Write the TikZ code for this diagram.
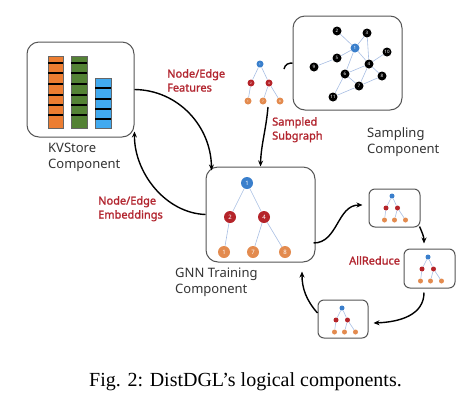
\documentclass[tikz,border=0pt]{standalone}
\usepackage{fontspec}
\setmainfont{Liberation Serif}
\newfontfamily\labfont{Noto Sans}
\newfontfamily\labbold{Noto Sans}[FakeBold=1.6]
\usetikzlibrary{arrows.meta,calc}
\definecolor{cblue}{HTML}{3A7FCC}
\definecolor{cred}{HTML}{B5242A}
\definecolor{corange}{HTML}{E38B4F}
\definecolor{labred}{HTML}{B22630}
\definecolor{edgec}{HTML}{A8BEE3}
\definecolor{kvor}{HTML}{EC7D31}
\definecolor{kvgr}{HTML}{548235}
\definecolor{kvbl}{HTML}{41AAF0}
\definecolor{txtgray}{HTML}{333333}
\definecolor{boxgray}{HTML}{555555}
\begin{document}
\begin{tikzpicture}[x=1pt,y=-1pt,
  compbox/.style={draw=boxgray, line width=1pt, rounded corners=12pt, inner sep=0pt},
  minibox/.style={draw=boxgray, line width=1pt, rounded corners=6pt, inner sep=0pt, minimum width=51pt, minimum height=38pt},
  flow/.style={-{Stealth[length=6pt,width=5pt]}, line width=1.4pt},
  lab/.style={font=\labfont\fontsize{13}{16}\selectfont, text=txtgray, align=left, inner sep=0pt, anchor=north west},
  redlab/.style={font=\labbold\fontsize{11}{14}\selectfont, text=labred, align=left, inner sep=0pt, anchor=north west},
  gnode/.style={circle, inner sep=0pt, minimum size=12pt, font=\labfont\fontsize{6}{6}\selectfont, text=white},
  snode/.style={circle, fill=black, inner sep=0pt, minimum size=9pt, font=\labfont\fontsize{4.5}{4.5}\selectfont, text=white},
  tnode/.style={circle, inner sep=0pt, minimum size=7pt, font=\labfont\fontsize{3}{3}\selectfont, text=white},
  mnode/.style={circle, inner sep=0pt, minimum size=5pt},
  tedge/.style={draw=edgec, line width=0.6pt},
  bar/.style={draw=black!60, line width=0.5pt},
  barline/.style={draw=black, line width=1.3pt}
]
\useasboundingbox (0,0) rectangle (474,405);

% ---------- KVStore component ----------
\node[compbox, minimum width=107pt, minimum height=95pt] (kv) at (80.5,89.5) {};
\fill[kvor] (48,56) rectangle (63,128);
\fill[kvgr] (71,56) rectangle (87,128);
\fill[kvbl] (95,78) rectangle (111,128);
\draw[bar] (48,56) rectangle (63,128);
\draw[bar] (71,56) rectangle (87,128);
\draw[bar] (95,78) rectangle (111,128);
\foreach \yy in {63,73,84,95,105,115}{
  \draw[barline] (48,\yy) -- (63,\yy);
  \draw[barline] (71,\yy) -- (87,\yy);
}
\foreach \yy in {88,99,109,119}{
  \draw[barline] (95,\yy) -- (111,\yy);
}
\node[lab] (kvlab) at (48,143) {KVStore\\Component};

% ---------- Sampling component ----------
\node[compbox, minimum width=109pt, minimum height=94pt] (samp) at (347.5,63) {};
\node[snode] (s2) at (337,31) {2};
\node[snode] (s3) at (367,33) {3};
\node[snode, fill=cblue] (s1) at (355,48) {1};
\node[snode] (s10) at (387,52) {10};
\node[snode] (s5) at (337,58) {5};
\node[snode] (s4) at (369,64) {4};
\node[snode] (s9) at (314,67) {9};
\node[snode] (s6) at (345,74) {6};
\node[snode] (s8) at (382,76) {8};
\node[snode] (s7) at (359,86) {7};
\node[snode] (s11) at (333,97) {11};
\foreach \a/\b in {s2/s1,s3/s1,s1/s5,s5/s9,s1/s6,s1/s4,s3/s4,s4/s10,s4/s6,s4/s7,s4/s8,s6/s7,s7/s8,s7/s11,s6/s11}{
  \draw[tedge] (\a) -- (\b);
}
\node[lab] (samplab) at (367,127) {Sampling\\Component};

% sampled subgraph
\node[tnode, fill=cblue] (t1) at (260,64) {1};
\node[tnode, fill=cred] (t2) at (251,83) {2};
\node[tnode, fill=cred] (t4) at (269,83) {4};
\node[tnode, fill=corange] (t5) at (248,101) {1};
\node[tnode, fill=corange] (t6) at (263,101) {7};
\node[tnode, fill=corange] (t7) at (280,101) {8};
\foreach \a/\b in {t1/t2,t1/t4,t2/t5,t4/t6,t4/t7}{ \draw[tedge] (\a) -- (\b); }
\coordinate (sq) at (284,69);
\draw[line width=1.4pt] (sq) .. controls (285,64) and (289,63) .. (samp.west |- 0,63);

% ---------- GNN training component ----------
\node[compbox, minimum width=109pt, minimum height=95pt] (gnn) at (260.5,214.5) {};
\node[gnode, fill=cblue] (g1) at (247,183) {1};
\node[gnode, fill=cred] (g2) at (230,217) {2};
\node[gnode, fill=cred] (g4) at (264,217) {4};
\node[gnode, fill=corange] (g5) at (224,252) {1};
\node[gnode, fill=corange] (g7) at (253,252) {7};
\node[gnode, fill=corange] (g8) at (285,252) {8};
\foreach \a/\b in {g1/g2,g1/g4,g2/g5,g4/g7,g4/g8}{ \draw[tedge] (\a) -- (\b); }
\node[lab] (gnnlab) at (175,268) {GNN Training\\Component};

% ---------- mini boxes ----------
\node[minibox] (mA) at (394.5,208) {};
\node[minibox, minimum height=39pt] (mB) at (429.5,268.5) {};
\node[minibox, minimum width=50pt] (mC) at (343,319) {};
\foreach \m/\cx/\cy in {A/392/196,B/428/257,C/342/308}{
  \node[mnode, fill=cblue] (\m r) at (\cx,\cy) {};
  \node[mnode, fill=cred] (\m a) at ($(\cx,\cy)+(-6,12)$) {};
  \node[mnode, fill=cred] (\m b) at ($(\cx,\cy)+(5.5,12)$) {};
  \node[mnode, fill=corange] (\m c) at ($(\cx,\cy)+(-7.5,24)$) {};
  \node[mnode, fill=corange] (\m d) at ($(\cx,\cy)+(2.5,24)$) {};
  \node[mnode, fill=corange] (\m e) at ($(\cx,\cy)+(13.5,24)$) {};
  \draw[tedge] (\m r) -- (\m a);
  \draw[tedge] (\m r) -- (\m b);
  \draw[tedge] (\m a) -- (\m c);
  \draw[tedge] (\m b) -- (\m d);
  \draw[tedge] (\m b) -- (\m e);
}

% ---------- labels ----------
\node[redlab] (feat) at (167,69) {Node/Edge\\Features};
\node[redlab] (emb) at (98,196) {Node/Edge\\Embeddings};
\node[redlab] (sub) at (272,117) {Sampled\\Subgraph};
\node[redlab] (allr) at (349,256) {AllReduce};

% ---------- connectors ----------
\coordinate (ss) at (268,107);
\draw[flow] (kv.east) .. controls (178,90) and (211,126) .. ($(gnn.north west)+(6,4)$);
\draw[flow] (gnn.west) .. controls (165,213) and (134,172) .. ($(kv.south east)+(0,-6)$);
\draw[flow] (ss) .. controls (266,130) and (261,145) .. (gnn.north);
\draw[flow] ($(gnn.east)+(-2,28.5)$) .. controls (338,243) and (337,205) .. ($(mA.west)+(-6,-3)$);
\draw[flow] ($(mA.south east)+(-1,-1)$) .. controls (422,232) and (424,237) .. ($(mB.north)+(-5.5,-5)$);
\draw[flow] ($(mB.south)+(-5.5,4)$) .. controls (424,315) and (400,322) .. ($(mC.east)+(5,4)$);
\draw[flow] ($(mC.west)+(0,-6)$) .. controls (306,300) and (302,288) .. ($(gnn.south)+(41.5,9)$);

% ---------- caption ----------
\node[anchor=base west, inner sep=0pt, font=\fontsize{20}{24}\selectfont] (cap) at (89,386) {Fig. 2: DistDGL’s logical components.};
\end{tikzpicture}
\end{document}
